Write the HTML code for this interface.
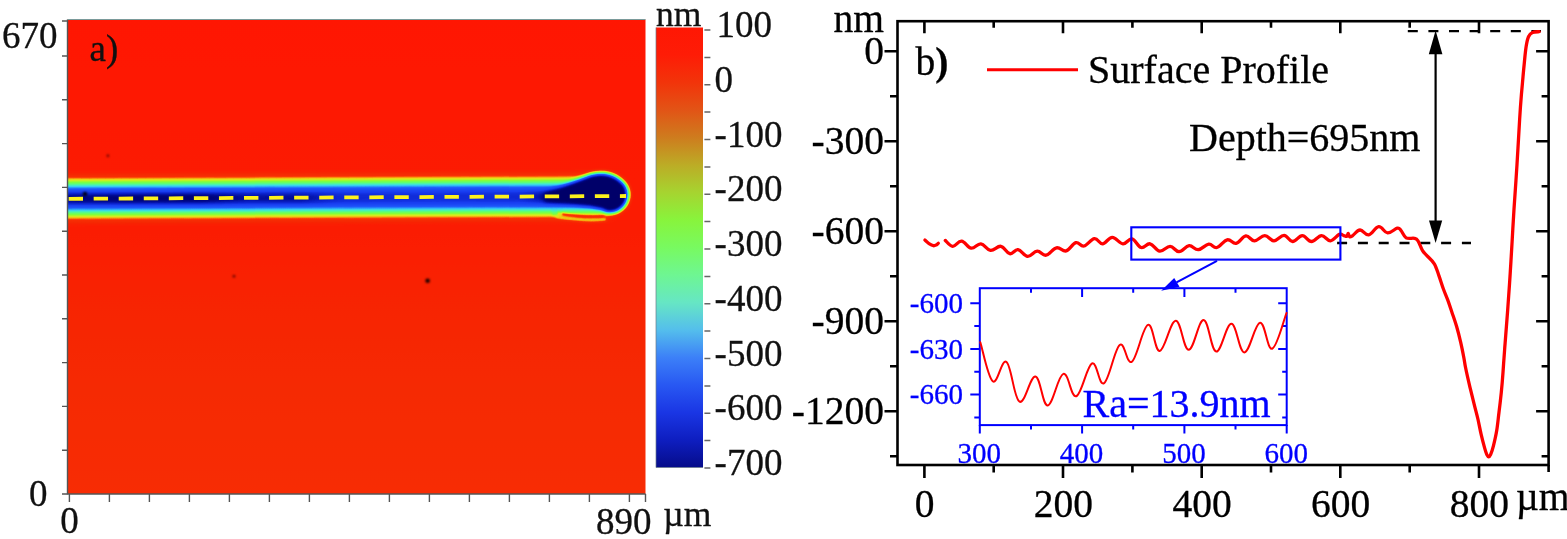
<!DOCTYPE html>
<html lang="en"><head><meta charset="utf-8"><title>Surface profile figure</title>
<style>
html,body{margin:0;padding:0;background:#fff;}
body{width:1567px;height:539px;overflow:hidden;}
svg{display:block;position:absolute;left:0;top:0;}
text{font-family:"Liberation Serif","Times New Roman",serif;}
.l{font-size:37px;fill:#111;stroke:#111;stroke-width:0.3px;}
.r{font-size:39.5px;fill:#000;stroke:#000;stroke-width:0.3px;}
.a{font-size:40px;}
.b{font-size:29px;fill:#0000ff;stroke:#0000ff;stroke-width:0.3px;}
</style></head><body>
<svg width="1567" height="539" viewBox="0 0 1567 539">
<defs>
<filter id="cmap" filterUnits="userSpaceOnUse" x="0" y="0" width="720" height="539" color-interpolation-filters="sRGB">
<feComponentTransfer><feFuncR type="table" tableValues="0.000 0.000 0.008 0.024 0.039 0.058 0.076 0.094 0.099 0.105 0.110 0.115 0.120 0.125 0.136 0.146 0.157 0.178 0.199 0.219 0.235 0.251 0.267 0.285 0.307 0.329 0.351 0.373 0.400 0.427 0.455 0.482 0.510 0.571 0.633 0.695 0.754 0.812 0.869 0.916 0.939 0.961 0.976 0.988 0.983 0.977 0.971 0.964 0.969 0.984 1.000"/><feFuncG type="table" tableValues="0.000 0.016 0.044 0.085 0.125 0.162 0.199 0.235 0.255 0.275 0.294 0.314 0.333 0.353 0.431 0.510 0.588 0.665 0.742 0.811 0.848 0.886 0.923 0.948 0.961 0.974 0.987 1.000 1.000 1.000 1.000 1.000 1.000 0.990 0.980 0.970 0.952 0.928 0.903 0.857 0.759 0.662 0.522 0.361 0.241 0.178 0.173 0.167 0.150 0.120 0.090"/><feFuncB type="table" tableValues="0.412 0.490 0.580 0.682 0.784 0.837 0.889 0.941 0.949 0.957 0.965 0.973 0.980 0.988 0.986 0.983 0.980 0.973 0.966 0.949 0.891 0.833 0.774 0.712 0.647 0.582 0.516 0.451 0.408 0.365 0.322 0.278 0.235 0.211 0.186 0.161 0.141 0.125 0.109 0.093 0.077 0.061 0.046 0.031 0.024 0.018 0.016 0.013 0.011 0.009 0.008"/></feComponentTransfer>
</filter>
<filter id="b5" filterUnits="userSpaceOnUse" x="0" y="100" width="720" height="200" color-interpolation-filters="sRGB"><feGaussianBlur stdDeviation="5.5"/></filter>
<filter id="b2" filterUnits="userSpaceOnUse" x="480" y="120" width="240" height="160" color-interpolation-filters="sRGB"><feGaussianBlur stdDeviation="2.1"/></filter>
<filter id="b1" filterUnits="userSpaceOnUse" x="0" y="0" width="720" height="539" color-interpolation-filters="sRGB"><feGaussianBlur stdDeviation="1.0"/></filter>
<linearGradient id="bg" x1="0" y1="0" x2="0" y2="1"><stop offset="0" stop-color="#fff"/><stop offset="0.45" stop-color="#fbfbfb"/><stop offset="1" stop-color="#e9e9e9"/></linearGradient>
<linearGradient id="cb" x1="0" y1="0" x2="0" y2="1">
<stop offset="0.0000" stop-color="rgb(255,23,4)"/>
<stop offset="0.0625" stop-color="rgb(254,28,6)"/>
<stop offset="0.1250" stop-color="rgb(242,52,10)"/>
<stop offset="0.1875" stop-color="rgb(226,84,22)"/>
<stop offset="0.2500" stop-color="rgb(206,124,30)"/>
<stop offset="0.3125" stop-color="rgb(188,172,38)"/>
<stop offset="0.3750" stop-color="rgb(166,212,48)"/>
<stop offset="0.4375" stop-color="rgb(136,244,60)"/>
<stop offset="0.5000" stop-color="rgb(120,250,96)"/>
<stop offset="0.5625" stop-color="rgb(110,246,146)"/>
<stop offset="0.6250" stop-color="rgb(102,230,196)"/>
<stop offset="0.6875" stop-color="rgb(84,190,236)"/>
<stop offset="0.7500" stop-color="rgb(60,128,248)"/>
<stop offset="0.8125" stop-color="rgb(40,88,242)"/>
<stop offset="0.8750" stop-color="rgb(26,54,228)"/>
<stop offset="0.9375" stop-color="rgb(14,30,192)"/>
<stop offset="1.0000" stop-color="rgb(6,12,138)"/>
</linearGradient>
<filter id="b3" filterUnits="userSpaceOnUse" x="0" y="100" width="720" height="200" color-interpolation-filters="sRGB"><feGaussianBlur stdDeviation="2.6"/></filter>
<linearGradient id="core" gradientUnits="userSpaceOnUse" x1="60" y1="0" x2="610" y2="0">
<stop offset="0.0000" stop-color="#000" stop-opacity="0.8"/>
<stop offset="0.1091" stop-color="#000" stop-opacity="0.9"/>
<stop offset="0.2545" stop-color="#000" stop-opacity="0.95"/>
<stop offset="0.3455" stop-color="#000" stop-opacity="0.65"/>
<stop offset="0.4364" stop-color="#000" stop-opacity="0.7"/>
<stop offset="0.5091" stop-color="#000" stop-opacity="0.32"/>
<stop offset="0.6727" stop-color="#000" stop-opacity="0.22"/>
<stop offset="0.8364" stop-color="#000" stop-opacity="0.3"/>
<stop offset="0.9018" stop-color="#000" stop-opacity="0.9"/>
<stop offset="1.0000" stop-color="#000" stop-opacity="1.0"/>
</linearGradient>
<clipPath id="hc"><rect x="67.5" y="19.5" width="578" height="474.5"/></clipPath>
</defs>
<rect x="0" y="0" width="1567" height="539" fill="#fff"/>
<g clip-path="url(#hc)"><g filter="url(#cmap)">
<rect x="65.5" y="17.5" width="582" height="478.5" fill="url(#bg)"/>
<g filter="url(#b5)">
<path d="M40 198.5 L560 196.7 L607 196.2" stroke="#242424" stroke-width="30" fill="none" stroke-linecap="butt"/>
</g>
<g filter="url(#b3)">
<path d="M40 198.9 L560 197 L607 196.4" stroke="url(#core)" stroke-width="10.5" fill="none" stroke-linecap="butt"/>
</g>
<g filter="url(#b2)">
<path d="M544 193 L562 186.5 L589 175 C597 172.6 606 172.4 612 174.8 C622 178.6 628.6 186 628.6 194 C628.6 201 625.6 206.5 620.5 210 C616 213.2 610 214.2 605.5 212.5 L601 209.6 L590 206.4 L570 204 L544 202 Z" fill="#000"/>
</g>
<g filter="url(#b1)">
<path d="M557 216.6 C574 219.6 590 220.8 605 219.4" stroke="#c6c6c6" stroke-width="3.4" fill="none" stroke-linecap="round"/>
<path d="M559 213.6 C574 216.2 590 217.4 603.5 216.4" stroke="#efefef" stroke-width="2.5" fill="none" stroke-linecap="round"/>
<path d="M552.5 207.5 l1.5 8 M556 208.5 l1.2 7 M560 210 l0.8 5" stroke="#555" stroke-width="1.1" fill="none" opacity="0.7"/>
</g>
</g>
<g filter="url(#b1)">
<circle cx="85" cy="194" r="2.3" fill="#000018"/>
<circle cx="427.6" cy="280.7" r="2.3" fill="#1a0000"/>
<circle cx="234" cy="276.2" r="1.3" fill="#5a0000"/>
<circle cx="107.9" cy="155.7" r="1.2" fill="#5a0000"/>
</g>
<path d="M68.6 198.8 L626 196" stroke="#fdf21c" stroke-width="3.8" stroke-dasharray="14.4 10.66" fill="none"/>
</g>
<g stroke="#555" stroke-width="1.4" fill="none">
<path d="M67.5 19.5 V494 H645.5"/>
<path d="M69.4 494v8M109.4 494v8M149.4 494v8M189.4 494v8M229.4 494v8M269.4 494v8M309.4 494v8M349.4 494v8M389.4 494v8M429.4 494v8M469.4 494v8M509.4 494v8M549.4 494v8M589.4 494v8M629.4 494v8M645.5 494v8M67.5 494h-5.5M67.5 450.2h-5.5M67.5 406.4h-5.5M67.5 362.6h-5.5M67.5 318.8h-5.5M67.5 275h-5.5M67.5 231.2h-5.5M67.5 187.4h-5.5M67.5 143.6h-5.5M67.5 99.8h-5.5M67.5 56h-5.5M67.5 21h-5.5"/>
</g>
<path d="M67.5 19.5 H645.5" stroke="#7a9a9a" stroke-width="1" fill="none"/>
<rect x="656" y="27.5" width="47" height="440" fill="url(#cb)"/>
<path d="M656 27.5 V467.5 H703" stroke="#6a7a8a" stroke-width="1" fill="none" opacity="0.7"/>
<path d="M704.4 30h6M704.4 57.4h6M704.4 84.8h6M704.4 112.1h6M704.4 139.5h6M704.4 166.9h6M704.4 194.2h6M704.4 221.6h6M704.4 249h6M704.4 276.4h6M704.4 303.8h6M704.4 331.1h6M704.4 358.5h6M704.4 385.9h6M704.4 413.2h6M704.4 440.6h6M704.4 468h6" stroke="#666" stroke-width="1.5" fill="none"/>
<g class="l">
<text x="2" y="47.5">670</text>
<text x="89.5" y="61">a)</text>
<text x="29" y="505.5">0</text>
<text x="60.3" y="533.3">0</text>
<text x="596" y="533.7">890</text>
<text x="663.2" y="526" style="font-size:35.5px">µm</text>
<text x="656" y="26" style="font-size:35.5px">nm</text>
<text x="716.5" y="37.2">100</text>
<text x="714.6" y="92">0</text>
<text x="714.6" y="146.7">-100</text>
<text x="714.6" y="201.4">-200</text>
<text x="714.6" y="256.2">-300</text>
<text x="714.6" y="310.9">-400</text>
<text x="714.6" y="365.7">-500</text>
<text x="714.6" y="420.4">-600</text>
<text x="714.6" y="475.2">-700</text>
</g>
<g stroke="#000" stroke-width="2.6" fill="none">
<rect x="897.5" y="21.2" width="651.1" height="443.8"/>
<path d="M897.5 51.2h-13M1548.6 51.2h-12.5M897.5 96.2h-7.5M1548.6 96.2h-7M897.5 141.2h-13M1548.6 141.2h-12.5M897.5 186.2h-7.5M1548.6 186.2h-7M897.5 231.2h-13M1548.6 231.2h-12.5M897.5 276.2h-7.5M1548.6 276.2h-7M897.5 321.2h-13M1548.6 321.2h-12.5M897.5 366.2h-7.5M1548.6 366.2h-7M897.5 411.2h-13M1548.6 411.2h-12.5M897.5 456.2h-7.5M1548.6 456.2h-7M924.4 465v13M924.4 21.2v12M993.7 465v7.5M993.7 21.2v6.5M1063 465v13M1063 21.2v12M1132.4 465v7.5M1132.4 21.2v6.5M1201.7 465v13M1201.7 21.2v12M1271 465v7.5M1271 21.2v6.5M1340.3 465v13M1340.3 21.2v12M1409.7 465v7.5M1409.7 21.2v6.5M1479 465v13M1479 21.2v12M1548.6 465v7"/>
</g>
<g stroke="#000" stroke-width="2.3" fill="none">
<path d="M1407.8 31.2H1541" stroke-dasharray="10 10.6"/>
<path d="M1337.1 243H1471" stroke-dasharray="10 10.8"/>
<path d="M1435.6 50V224" stroke-width="2.2"/>
</g>
<path d="M1435.6 30.6L1442.4 54.3H1428.8Z" fill="#000"/>
<path d="M1435.6 243L1442.2 220.6H1429Z" fill="#000"/>
<path d="M987 69.7H1078" stroke="#ff0000" stroke-width="3" fill="none"/>
<g stroke="#ff0000" stroke-width="3.3" fill="none" stroke-linecap="round" stroke-linejoin="round">
<path d="M924.9 240.1C925.6 240.7 927.6 242.7 929 243.6C930.4 244.5 932.2 245.5 933.4 245.7C934.6 245.9 935.4 245.3 936.2 244.9C937 244.5 937.9 243.6 938.3 243.3"/>
<path d="M945.3 240.4C946.7 241.5 949.6 246.1 952.7 246.3C955.8 246.5 958 240.8 961.6 241.2C965.2 241.6 967.5 247.7 971.2 248.2C974.9 248.7 977.2 243.4 980.9 243.8C984.6 244.2 986.7 249.9 990.5 250.4C994.3 250.9 997.2 245.7 1000.9 246.3C1004.6 246.9 1006.5 253 1009.8 253.7C1013.1 254.4 1014.6 249.2 1018 249.7C1021.4 250.2 1023.9 256.1 1027.6 256.4C1031.3 256.7 1033.6 251.4 1037.2 251.2C1040.8 251 1042.4 255.9 1046.1 255.2C1049.8 254.5 1052.6 248.6 1056.5 247.8C1060.4 247 1062.5 251.9 1066.2 250.9C1069.9 249.9 1072.4 243.6 1075.8 242.7C1079.2 241.8 1080.4 246.8 1084 246C1087.6 245.2 1090.8 239 1094.4 238.6C1098 238.2 1099.2 244 1102.6 243.8C1106 243.6 1108.4 237.4 1112.3 237.4C1116.2 237.4 1119.1 243.5 1122.9 243.8C1126.7 244.1 1128.5 238.2 1132 238.9C1135.5 239.6 1137.7 246.6 1141.2 247.5C1144.7 248.4 1146.5 243.1 1150.1 243.8C1153.7 244.5 1155.9 250.7 1159.7 251.2C1163.5 251.7 1166.4 246.2 1170.1 246.3C1173.8 246.4 1175.3 251.7 1179 251.6C1182.7 251.5 1185.4 246.1 1189.1 245.7C1192.8 245.3 1194.5 250 1198.3 249.7C1202.1 249.4 1205.1 244.6 1208.7 244.2C1212.3 243.8 1213.3 248.3 1216.9 247.5C1220.5 246.7 1223.5 240.6 1227.2 239.8C1230.9 239 1232.5 244.1 1236.1 243.3C1239.7 242.6 1242.3 236.4 1245.8 235.9C1249.3 235.4 1250.7 240.9 1254.4 240.8C1258.1 240.7 1261 235.6 1264.8 235.6C1268.6 235.6 1270.3 240.9 1274 240.8C1277.7 240.7 1280.5 235.2 1284.1 235.3C1287.7 235.4 1289.1 241.4 1292.6 241.5C1296.1 241.6 1298.7 235.6 1302.3 235.6C1305.9 235.6 1307.8 241.5 1311.5 241.5C1315.2 241.5 1317.9 235.7 1321.5 235.6C1325.1 235.5 1327 241 1330.4 240.8C1333.8 240.6 1336.7 235.4 1339.3 234.4C1341.9 233.4 1342.5 235.3 1343.8 235.6C1345 235.9 1346.1 236.8 1346.8 236.4C1347.5 236 1347.7 233.3 1348.2 233.4C1348.7 233.5 1349 236.4 1349.7 236.8C1350.5 237.2 1351 236.7 1352.7 235.6C1354.4 234.5 1357 230.1 1360.1 230C1363.2 229.9 1365.1 235.5 1368.7 234.9C1372.3 234.3 1375.1 227.1 1378.7 226.7C1382.3 226.3 1384 232.6 1387.6 232.9C1391.2 233.2 1394.6 228.7 1397.2 228.2C1399.8 227.7 1399.4 228.8 1400.9 230.4C1402.4 232 1403.9 236.5 1406.1 237.8C1408.3 239.1 1412.3 237.8 1414.3 238.3C1416.3 238.8 1416.7 238.8 1418 240.8C1419.3 242.8 1420.9 247.9 1422.4 250.4C1423.9 252.9 1424.9 253.4 1426.9 255.6C1428.9 257.8 1432.3 260.5 1434.3 263.8C1436.3 267.1 1437.4 271.4 1438.9 275.6C1440.4 279.8 1441.9 284.9 1443.4 289C1444.9 293.1 1446.3 296 1447.8 300.1C1449.3 304.2 1450.8 308.9 1452.3 313.4C1453.8 317.8 1455.3 322 1456.7 326.8C1458.1 331.6 1459.5 337.2 1460.7 342.4C1461.9 347.6 1463.1 353.8 1463.9 358C1464.7 362.2 1464.6 362.8 1465.6 367.8C1466.6 372.8 1468.6 381.5 1470.1 387.8C1471.6 394.1 1473.2 400.4 1474.5 405.6C1475.8 410.8 1476.8 414.2 1477.9 419C1479 423.8 1480.1 429.8 1481.2 434.6C1482.3 439.4 1483.7 444.6 1484.6 447.9C1485.5 451.2 1486.1 453.1 1486.8 454.6C1487.5 456.1 1488 456.8 1488.6 456.8C1489.2 456.8 1489.8 456.5 1490.6 454.6C1491.4 452.8 1492.5 449.8 1493.5 445.7C1494.5 441.6 1495.9 435.7 1496.8 430.1C1497.7 424.5 1498.2 418.6 1499 412.3C1499.8 406 1500.6 399 1501.3 392.3C1502 385.6 1502.5 379.4 1503 372.3C1503.5 365.2 1504.1 356.1 1504.6 350C1505 343.9 1505.2 342.9 1505.7 335.7C1506.2 328.5 1507.2 317.2 1507.9 306.8C1508.7 296.4 1509.5 284.5 1510.2 273.4C1510.9 262.3 1511.6 250.7 1512.2 240C1512.8 229.3 1513.2 221.7 1514 209.1C1514.8 196.5 1516.1 179.3 1517 164.5C1517.9 149.7 1518.9 131.7 1519.6 120C1520.3 108.3 1520.8 101.8 1521.4 94.6C1522 87.4 1522.5 82.7 1523 76.8C1523.5 70.9 1524.2 64.2 1524.7 59C1525.2 53.8 1525.7 49.3 1526.3 45.6C1526.9 41.9 1527.5 38.9 1528.5 36.7C1529.5 34.5 1530.7 33.3 1532.5 32.5C1534.3 31.7 1538.1 31.8 1539.2 31.7"/>
</g>
<g stroke="#0000ff" stroke-width="2.1" fill="none">
<rect x="1131.3" y="227.3" width="209.1" height="32.3"/>
<path d="M1217 260.9L1176.5 282.4"/>
</g>
<path d="M1161.2 290.8L1174.2 278.1L1179.5 286.8Z" fill="#0000ff"/>
<g stroke="#0000ff" stroke-width="2" fill="none">
<rect x="979.8" y="288.2" width="306.9" height="136.9"/>
<path d="M979.8 303.2h-9.5M1286.7 303.2h-8.5M979.8 326.1h-5.5M1286.7 326.1h-4.5M979.8 348.9h-9.5M1286.7 348.9h-8.5M979.8 371.8h-5.5M1286.7 371.8h-4.5M979.8 394.6h-9.5M1286.7 394.6h-8.5M979.8 417.4h-5.5M1286.7 417.4h-4.5M979.8 425.1v8.5M1031 425.1v4.5M1031 288.2v4.6M1082.1 425.1v8.5M1082.1 288.2v8.8M1133.2 425.1v4.5M1133.2 288.2v4.6M1184.4 425.1v8.5M1184.4 288.2v8.8M1235.5 425.1v4.5M1235.5 288.2v4.6M1286.7 425.1v8.5"/>
</g>
<path d="M980.3 342.2C982.7 349.6 987.9 377.6 992.8 381.3C997.7 385 1001.5 358.2 1006.5 362C1011.5 365.8 1014 399 1019.5 401.7C1025 404.4 1030.1 375.8 1035.4 376.5C1040.7 377.2 1042.4 405.9 1047.7 405.4C1053 404.9 1057.9 375.6 1063.3 373.9C1068.7 372.2 1070.9 398.2 1076.3 396.2C1081.7 394.2 1086.8 366 1092 363.5C1097.2 361 1098.9 386.7 1104.1 383.2C1109.3 379.7 1114.5 349.1 1119.7 345C1124.9 340.9 1126.6 365.5 1131.9 361.7C1137.2 357.9 1142.6 326.9 1147.9 324.9C1153.2 322.9 1154.6 351.7 1159.8 350.9C1165 350.1 1170.2 321 1175.7 320.8C1181.2 320.6 1183.4 349.9 1188.7 349.8C1194 349.7 1198.4 319.8 1203.6 320.1C1208.8 320.4 1211 350.9 1216.2 351.6C1221.4 352.3 1226.1 323.6 1231.4 323.8C1236.7 324 1239 352.6 1244.4 352.4C1249.8 352.2 1254.8 323.4 1260 322.7C1265.2 322 1267.2 350.5 1272.2 348.7C1277.2 346.9 1283.8 319.7 1286.5 313" stroke="#ff0000" stroke-width="2" fill="none" stroke-linecap="round" stroke-linejoin="round"/>
<g class="b">
<text x="963" y="313" text-anchor="end">-600</text>
<text x="963" y="358.7" text-anchor="end">-630</text>
<text x="963" y="404.4" text-anchor="end">-660</text>
<text x="979.3" y="463.4" text-anchor="middle">300</text>
<text x="1081.6" y="463.4" text-anchor="middle">400</text>
<text x="1183.9" y="463.4" text-anchor="middle">500</text>
<text x="1286.2" y="463.4" text-anchor="middle">600</text>
</g>
<text x="1082.5" y="416.8" class="r a" style="fill:#0000ff;stroke:#0000ff">Ra=13.9nm</text>
<g class="r">
<text x="833.5" y="32">nm</text>
<text x="884" y="63.8" text-anchor="end">0</text>
<text x="884" y="153.8" text-anchor="end">-300</text>
<text x="884" y="243.8" text-anchor="end">-600</text>
<text x="884" y="333.8" text-anchor="end">-900</text>
<text x="884" y="423.8" text-anchor="end">-1200</text>
<text x="924.7" y="517.3" text-anchor="middle">0</text>
<text x="1063.3" y="517.3" text-anchor="middle">200</text>
<text x="1202" y="517.3" text-anchor="middle">400</text>
<text x="1340.6" y="517.3" text-anchor="middle">600</text>
<text x="1479.3" y="517.3" text-anchor="middle">800</text>
<text x="1516" y="510.4">µm</text>
<text x="915.5" y="75">b<tspan font-weight="bold">)</tspan></text>
<text x="1088" y="83.4" class="a">Surface Profile</text>
<text x="1189" y="151" class="a">Depth=695nm</text>
</g>
</svg>
</body></html>
